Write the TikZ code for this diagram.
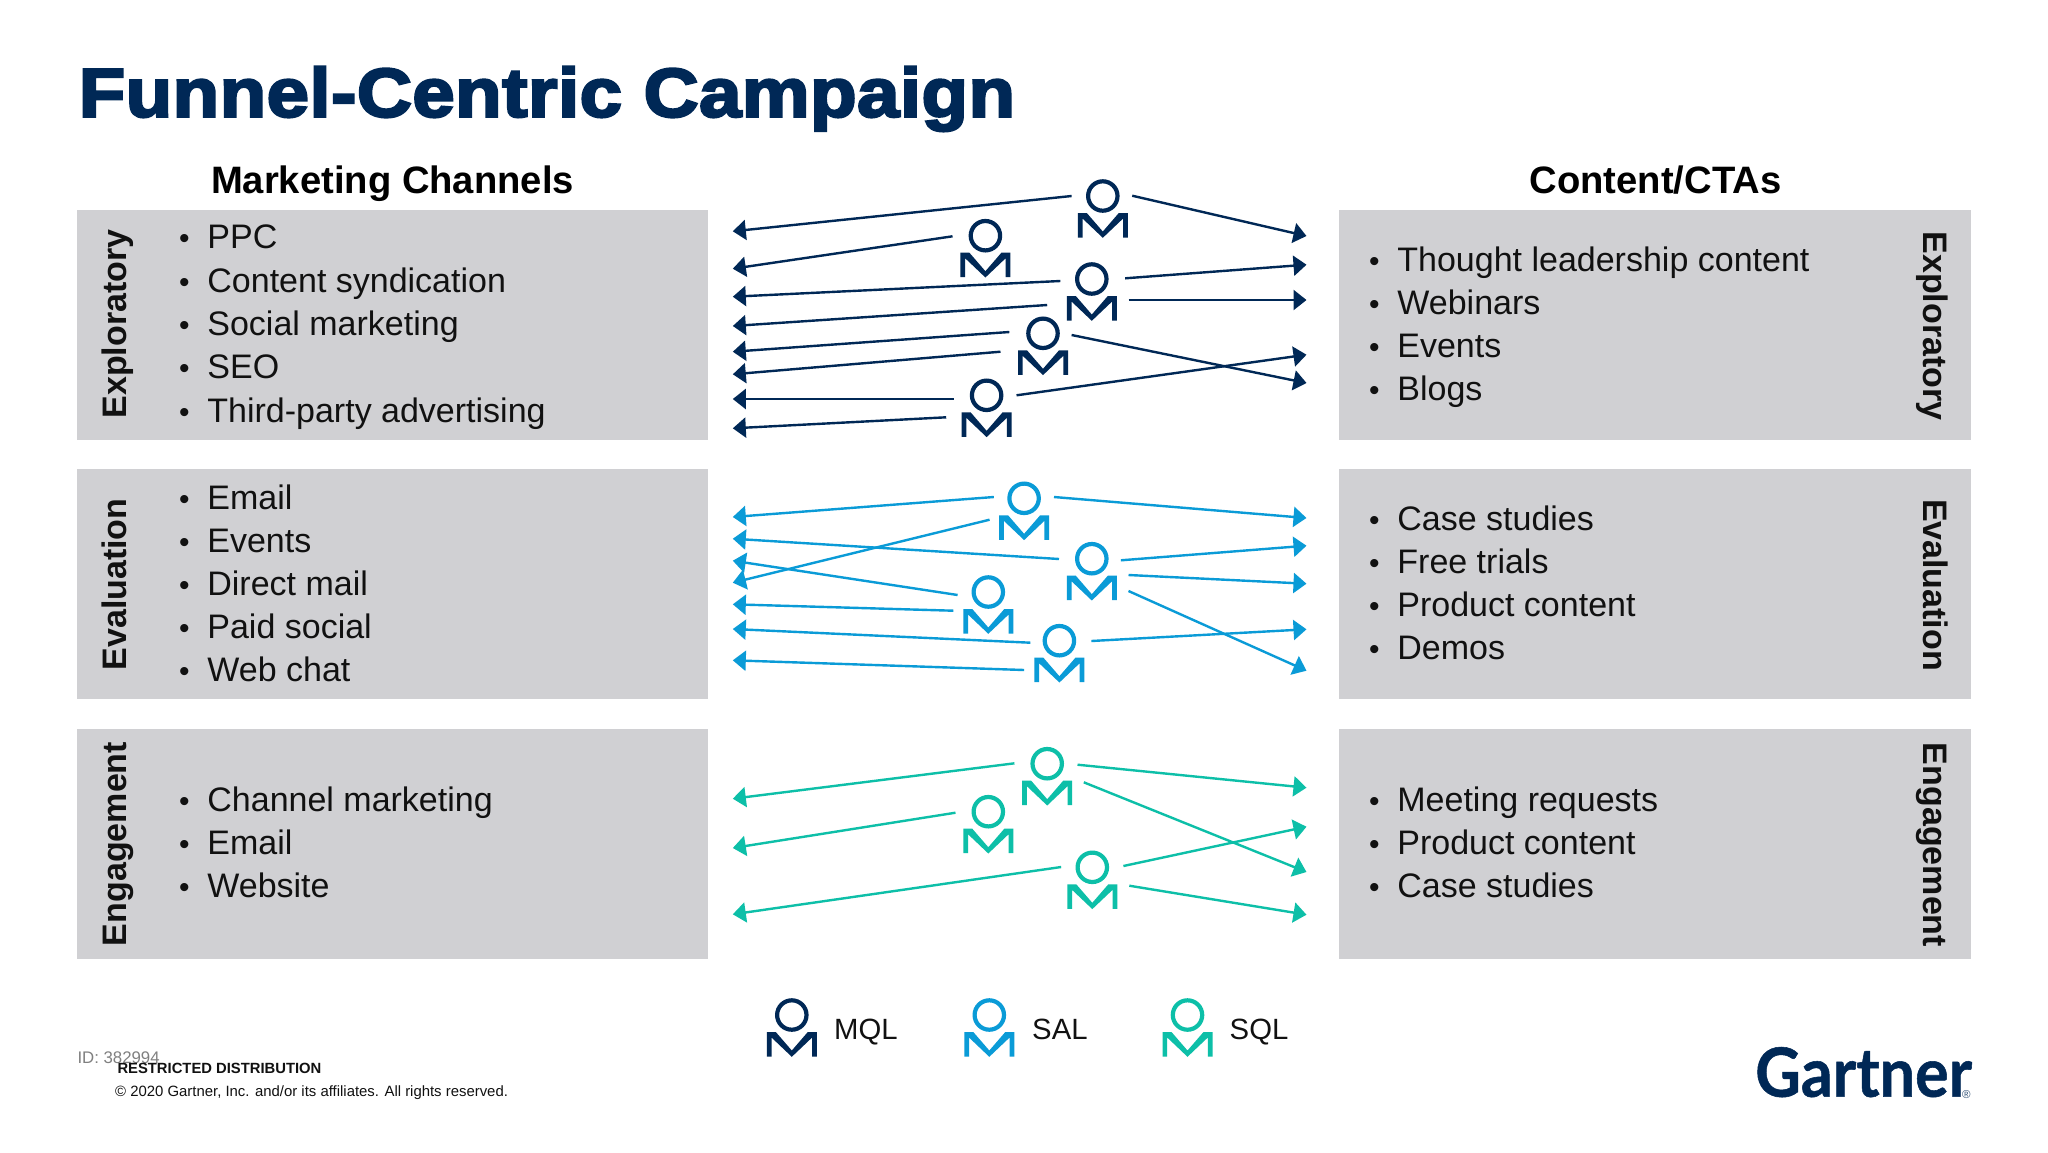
\documentclass[tikz,border=0pt]{standalone}
\usepackage{fontspec}
\usetikzlibrary{arrows.meta}
\setmainfont{Liberation Sans}
\newfontfamily\titlefont[FakeStretch=1.105,FakeBold=3.5,LetterSpace=0.6]{Liberation Sans Bold}
\newfontfamily\logofont[FakeBold=0.8]{Lato}
\definecolor{navy}{HTML}{002856}
\definecolor{sal}{HTML}{0A9BD7}
\definecolor{sqlc}{HTML}{0DBFA8}
\definecolor{panel}{HTML}{D0D0D3}
\definecolor{inkc}{HTML}{111111}
\tikzset{
  x=1pt,y=-1pt,
  panelbox/.style={fill=panel,draw=none},
  bodytext/.style={anchor=base west,inner sep=0pt,text=inkc,font=\fontsize{34}{40}\selectfont},
  bullettext/.style={anchor=base west,inner sep=0pt,text=inkc,font=\fontsize{30}{32}\selectfont},
  headtext/.style={anchor=base,inner sep=0pt,text=black,font=\bfseries\fontsize{38.2}{44}\selectfont},
  sidetext/.style={anchor=base,inner sep=0pt,text=inkc,font=\bfseries\fontsize{34}{40}\selectfont},
  legendtext/.style={anchor=base west,inner sep=0pt,text=inkc,font=\fontsize{29.3}{34}\selectfont},
  linkarrow/.style={line width=2.4pt,-{Triangle[length=13pt,width=20pt]}},
}
% person icon: name, colour, centre of the head
\newcommand\person[3]{%
  \coordinate (#1) at (#3);
  \draw[#2,line width=4.2pt] (#1) circle[radius=14.7];
  \fill[#2] ([shift={(-25,17)}]#1) -- ([shift={(-16,17)}]#1) -- ([shift={(0,35.5)}]#1)
    -- ([shift={(16,17)}]#1) -- ([shift={(25,17)}]#1) -- ([shift={(25,41.5)}]#1)
    -- ([shift={(20.3,41.5)}]#1) -- ([shift={(20.3,22.5)}]#1) -- ([shift={(0,41.8)}]#1)
    -- ([shift={(-20.3,22.5)}]#1) -- ([shift={(-20.3,41.5)}]#1) -- ([shift={(-25,41.5)}]#1) -- cycle;
}
% connector: colour, name, start, tip
\newcommand\linkto[4]{%
  \coordinate (#2s) at (#3);
  \coordinate (#2t) at (#4);
  \draw[linkarrow,#1] (#2s) -- (#2t);
}
% bullet line: name, x of bullet, baseline, text
\newcommand\blt[4]{%
  \node[bullettext] (#1b) at (#2+0.8,#3) {•};
  \node[bodytext] (#1) at (#2+29.2,#3) {#4};
}
\begin{document}
\begin{tikzpicture}
\useasboundingbox (0,0) rectangle (2048,1152);
\fill[white] (0,0) rectangle (2048,1152);
% title
\node[anchor=base west,inner sep=0pt,text=navy] (title) at (78.5,116.7)
  {\titlefont\fontsize{69}{80}\selectfont Funnel-Centric Campaign};
% headings
\node[headtext] (hleft) at (392.5,193) {Marketing Channels};
\node[headtext] (hright) at (1655.5,193) {Content/CTAs};
% panels
\node[panelbox,minimum width=631,minimum height=230,inner sep=0pt,anchor=north west] (pl1) at (77,209.5) {};
\node[panelbox,minimum width=631,minimum height=230,inner sep=0pt,anchor=north west] (pl2) at (77,469) {};
\node[panelbox,minimum width=631,minimum height=230,inner sep=0pt,anchor=north west] (pl3) at (77,728.5) {};
\node[panelbox,minimum width=632,minimum height=230,inner sep=0pt,anchor=north west] (pr1) at (1339,209.5) {};
\node[panelbox,minimum width=632,minimum height=230,inner sep=0pt,anchor=north west] (pr2) at (1339,469) {};
\node[panelbox,minimum width=632,minimum height=230,inner sep=0pt,anchor=north west] (pr3) at (1339,728.5) {};
% side labels
\node[sidetext,rotate=90] (sl1) at (126,324) {Exploratory};
\node[sidetext,rotate=90] (sl2) at (126,584.5) {Evaluation};
\node[sidetext,rotate=90] (sl3) at (126,844) {Engagement};
\node[sidetext,rotate=-90] (sr1) at (1923,326) {Exploratory};
\node[sidetext,rotate=-90] (sr2) at (1923,585) {Evaluation};
\node[sidetext,rotate=-90] (sr3) at (1923,845) {Engagement};
% left lists
\blt{a1}{178}{248.6}{PPC}
\blt{a2}{178}{292.2}{Content syndication}
\blt{a3}{178}{335.5}{Social marketing}
\blt{a4}{178}{378.6}{SEO}
\blt{a5}{178}{422}{Third-party advertising}
\blt{b1}{178}{509}{Email}
\blt{b2}{178}{552}{Events}
\blt{b3}{178}{595}{Direct mail}
\blt{b4}{178}{638}{Paid social}
\blt{b5}{178}{681}{Web chat}
\blt{c1}{178}{811}{Channel marketing}
\blt{c2}{178}{854}{Email}
\blt{c3}{178}{897}{Website}
% right lists
\blt{d1}{1368}{271}{Thought leadership content}
\blt{d2}{1368}{314}{Webinars}
\blt{d3}{1368}{357}{Events}
\blt{d4}{1368}{400}{Blogs}
\blt{e1}{1368}{530.6}{Case studies}
\blt{e2}{1368}{573.6}{Free trials}
\blt{e3}{1368}{616.6}{Product content}
\blt{e4}{1368}{659.6}{Demos}
\blt{f1}{1368}{811}{Meeting requests}
\blt{f2}{1368}{854}{Product content}
\blt{f3}{1368}{897}{Case studies}
% MQL icons
\person{ma}{navy}{1102.8,196}
\person{mb}{navy}{985.4,235.7}
\person{mc}{navy}{1091.8,279}
\person{md}{navy}{1043,333.3}
\person{me}{navy}{986.6,395.3}
% MQL links
\linkto{navy}{m1}{1071.6,196}{732.8,231.3}
\linkto{navy}{m2}{952.5,236.3}{732.8,268.7}
\linkto{navy}{m3}{1060.3,281}{732.8,296.7}
\linkto{navy}{m4}{1047.2,305}{732.8,326}
\linkto{navy}{m5}{1009.3,332}{732.8,351.7}
\linkto{navy}{m6}{1000.5,351.7}{732.8,374.3}
\linkto{navy}{m7}{953.8,399}{732.8,399}
\linkto{navy}{m8}{946.2,417.3}{732.8,428.3}
\linkto{navy}{m9}{1132.2,195.7}{1306.5,236}
\linkto{navy}{m10}{1125.1,278.3}{1306.5,264.7}
\linkto{navy}{m11}{1128.5,300}{1306.5,300}
\linkto{navy}{m12}{1071.6,335}{1306.5,383}
\linkto{navy}{m13}{1016.5,395.3}{1306.5,354.7}
% SAL icons
\person{sa}{sal}{1024.1,498.3}
\person{sb}{sal}{1091.8,558.7}
\person{sc}{sal}{988.3,592}
\person{sd}{sal}{1059.4,640.7}
% SAL links
\linkto{sal}{s1}{993.8,497}{732.8,517}
\linkto{sal}{s2}{1059,559}{732.8,538.7}
\linkto{sal}{s3}{989.6,519.7}{732.8,582.7}
\linkto{sal}{s4}{957.6,595}{732.8,560.7}
\linkto{sal}{s5}{953.4,610.7}{732.8,604.3}
\linkto{sal}{s6}{1030.4,642.7}{732.8,629}
\linkto{sal}{s7}{1024.1,670}{732.8,660.3}
\linkto{sal}{s8}{1054,497}{1306.5,518}
\linkto{sal}{s9}{1120.9,560.3}{1306.5,545.7}
\linkto{sal}{s10}{1128.5,575}{1306.5,583.7}
\linkto{sal}{s11}{1128.5,591}{1306.5,670.7}
\linkto{sal}{s12}{1091.4,641}{1306.5,629.3}
% SQL icons
\person{qa}{sqlc}{1047.2,763.7}
\person{qb}{sqlc}{988.3,811.7}
\person{qc}{sqlc}{1092.3,867.3}
% SQL links
\linkto{sqlc}{q1}{1014.4,763.3}{732.8,798.7}
\linkto{sqlc}{q2}{955.5,812.7}{732.8,848}
\linkto{sqlc}{q3}{1061.1,867}{732.8,914.3}
\linkto{sqlc}{q4}{1077.5,764.7}{1306.5,787.7}
\linkto{sqlc}{q5}{1083.8,782.3}{1306.5,872}
\linkto{sqlc}{q6}{1123.4,866}{1306.5,826.7}
\linkto{sqlc}{q7}{1129.3,885.7}{1306.5,914.7}
% legend
\person{la}{navy}{791.8,1015}
\person{lb}{sal}{989.3,1015}
\person{lc}{sqlc}{1187.5,1015}
\node[legendtext] (lta) at (834,1039) {MQL};
\node[legendtext] (ltb) at (1032,1039) {SAL};
\node[legendtext] (ltc) at (1229.5,1039) {SQL};
% footer
\node[anchor=base west,inner sep=0pt,text=black!50,font=\fontsize{16.8}{20}\selectfont] (fid) at (77.3,1063.5) {ID: 382994};
\node[anchor=base west,inner sep=0pt,text=inkc,font=\bfseries\fontsize{14.8}{18}\selectfont] (frd) at (117.3,1073.5) {RESTRICTED DISTRIBUTION};
\node[anchor=base west,inner sep=0pt,text=inkc,font=\fontsize{14.9}{18}\selectfont] (fcp) at (115,1096.7) {© 2020 Gartner, Inc. and/or its affiliates. All rights reserved.};
% logo
\node[anchor=base west,inner sep=0pt,text=navy] (logo) at (1755,1096.7)
  {\scalebox{0.925}[1]{\logofont\bfseries\fontsize{68}{70}\selectfont Gartner}};
\node[anchor=base west,inner sep=0pt,text=navy!80,font=\fontsize{11.5}{12}\selectfont] (logor) at (1962,1098) {®};
\end{tikzpicture}
\end{document}
